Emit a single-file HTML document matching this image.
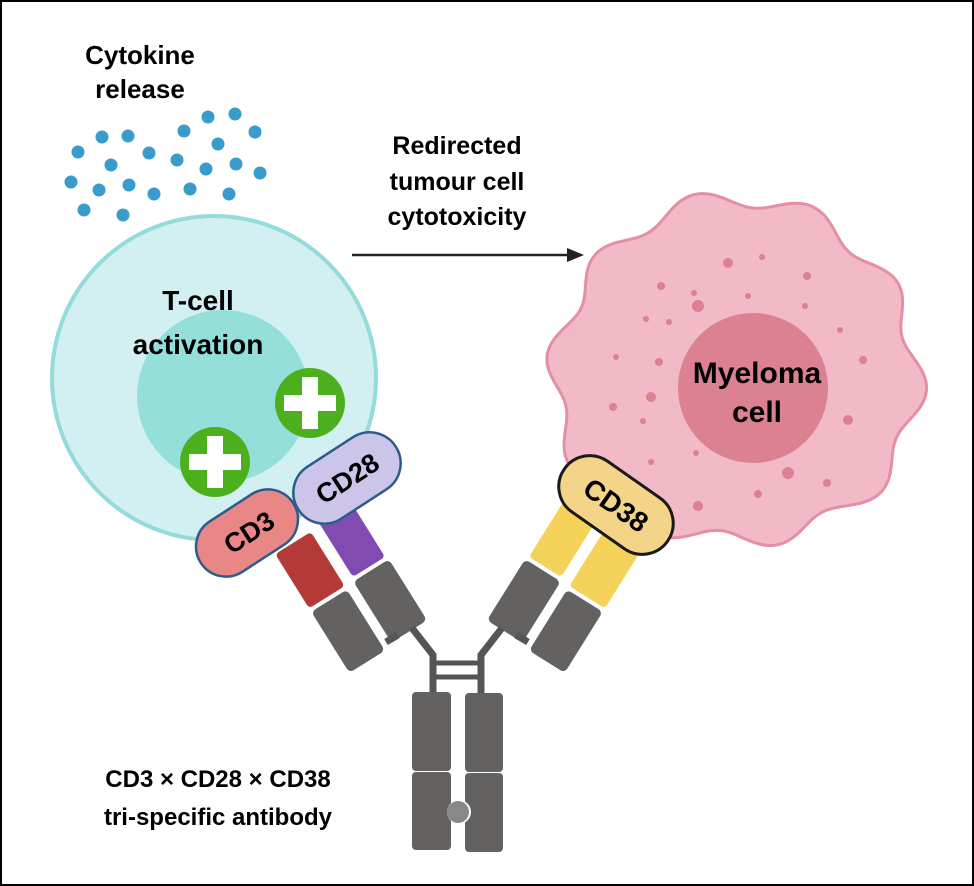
<!DOCTYPE html>
<html><head><meta charset="utf-8"><style>
html,body{margin:0;padding:0;background:#fff}
svg{display:block}
text{font-family:"Liberation Sans",Arial,sans-serif;font-weight:bold;fill:#000}
</style></head><body>
<svg width="974" height="886" viewBox="0 0 974 886" xmlns="http://www.w3.org/2000/svg">
<rect x="1" y="1" width="972" height="884" fill="#fff" stroke="#000" stroke-width="2"/>

<text x="140" y="64" font-size="26" text-anchor="middle">Cytokine</text>
<text x="140" y="98" font-size="26" text-anchor="middle">release</text>
<g fill="#3a9ccc">
<circle cx="208" cy="117" r="6.5"/><circle cx="235" cy="114" r="6.5"/><circle cx="184" cy="131" r="6.5"/>
<circle cx="255" cy="132" r="6.5"/><circle cx="102" cy="137" r="6.5"/><circle cx="128" cy="136" r="6.5"/>
<circle cx="218" cy="144" r="6.5"/><circle cx="78" cy="152" r="6.5"/><circle cx="149" cy="153" r="6.5"/>
<circle cx="177" cy="160" r="6.5"/><circle cx="111" cy="165" r="6.5"/><circle cx="236" cy="164" r="6.5"/>
<circle cx="206" cy="169" r="6.5"/><circle cx="260" cy="173" r="6.5"/><circle cx="71" cy="182" r="6.5"/>
<circle cx="99" cy="190" r="6.5"/><circle cx="129" cy="185" r="6.5"/><circle cx="154" cy="194" r="6.5"/>
<circle cx="190" cy="189" r="6.5"/><circle cx="229" cy="194" r="6.5"/><circle cx="84" cy="210" r="6.5"/>
<circle cx="123" cy="215" r="6.5"/>
</g>

<circle cx="214" cy="378" r="162" fill="#d2eff1" stroke="#93dcd9" stroke-width="4"/>
<circle cx="223" cy="396" r="86" fill="#95dfdb"/>
<text x="198" y="310" font-size="28" text-anchor="middle">T-cell</text>
<text x="198" y="354" font-size="28" text-anchor="middle">activation</text>
<g>
<circle cx="310" cy="403" r="35" fill="#4cb01e"/>
<rect x="284" y="395" width="52" height="16" fill="#fff"/><rect x="302" y="377" width="16" height="52" fill="#fff"/>
<circle cx="215" cy="462" r="35" fill="#4cb01e"/>
<rect x="189" y="454" width="52" height="16" fill="#fff"/><rect x="207" y="436" width="16" height="52" fill="#fff"/>
</g>

<text x="457" y="154" font-size="25" text-anchor="middle">Redirected</text>
<text x="457" y="190" font-size="25" text-anchor="middle">tumour cell</text>
<text x="457" y="225" font-size="25" text-anchor="middle">cytotoxicity</text>
<line x1="352" y1="255" x2="570" y2="255" stroke="#222" stroke-width="2.5"/>
<polygon points="584,255 567,248 567,262" fill="#222"/>

<circle id="fallback" cx="736" cy="372" r="176" fill="#f1bac6" stroke="#e48fa5" stroke-width="3"/>
<path id="blob" d="" fill="#f1bac6" stroke="#e48fa5" stroke-width="3"/>
<circle cx="753" cy="388" r="75" fill="#db8192"/>
<g fill="#db8192">
<circle cx="728" cy="263" r="5"/><circle cx="762" cy="257" r="3"/><circle cx="807" cy="276" r="4"/>
<circle cx="661" cy="286" r="4"/><circle cx="694" cy="293" r="3"/><circle cx="748" cy="296" r="3"/>
<circle cx="698" cy="306" r="6"/><circle cx="805" cy="306" r="3"/><circle cx="646" cy="319" r="3"/>
<circle cx="669" cy="322" r="3"/><circle cx="840" cy="330" r="3"/><circle cx="616" cy="357" r="3"/>
<circle cx="659" cy="362" r="4"/><circle cx="863" cy="360" r="4"/><circle cx="651" cy="397" r="5"/>
<circle cx="613" cy="407" r="4"/><circle cx="643" cy="421" r="3"/><circle cx="848" cy="420" r="5"/>
<circle cx="696" cy="453" r="3"/><circle cx="651" cy="462" r="3"/><circle cx="788" cy="473" r="6"/>
<circle cx="827" cy="483" r="4"/><circle cx="758" cy="494" r="4"/><circle cx="698" cy="506" r="5"/>
</g>
<text x="757" y="383" font-size="30" text-anchor="middle">Myeloma</text>
<text x="757" y="422" font-size="30" text-anchor="middle">cell</text>

<g transform="translate(293,543) rotate(-32)">
<rect x="-21" y="0" width="42" height="64" rx="4" fill="#b33a36"/>
<rect x="-21" y="68" width="42" height="72" rx="5" fill="#636261"/>
</g>
<g transform="translate(334,511) rotate(-32)">
<rect x="-19" y="0" width="38" height="66" rx="4" fill="#824bb0"/>
<rect x="-21" y="70" width="42" height="72" rx="5" fill="#636261"/>
</g>
<g transform="translate(914,0) scale(-1,1)">
<g transform="translate(293,543) rotate(-32)">
<rect x="-21" y="0" width="42" height="64" rx="4" fill="#f5d35a"/>
<rect x="-21" y="68" width="42" height="72" rx="5" fill="#636261"/>
</g>
<g transform="translate(334,511) rotate(-32)">
<rect x="-19" y="-20" width="38" height="86" rx="4" fill="#f5d35a"/>
<rect x="-21" y="70" width="42" height="72" rx="5" fill="#636261"/>
</g>
</g>
<g stroke="#555" stroke-width="7" fill="none">
<polyline points="412,628 433,655 433,695"/>
<polyline points="502,628 481,655 481,695"/>
<line x1="386" y1="642" x2="398" y2="635"/>
<line x1="528" y1="642" x2="516" y2="635"/>
</g>
<g stroke="#555" stroke-width="5">
<line x1="433" y1="663" x2="481" y2="663"/>
<line x1="433" y1="677" x2="481" y2="677"/>
</g>
<g fill="#636261">
<rect x="412" y="692" width="39" height="79" rx="4"/>
<rect x="412" y="772" width="39" height="78" rx="4"/>
<rect x="465" y="693" width="38" height="79" rx="4"/>
<rect x="465" y="773" width="38" height="79" rx="4"/>
</g>
<circle cx="459" cy="812" r="12" fill="#fff"/>
<circle cx="458" cy="812" r="11" fill="#8a8787"/>

<g transform="translate(347,478) rotate(-33)">
<rect x="-58" y="-31" width="116" height="62" rx="31" fill="#cdc4ea" stroke="#2d5c8a" stroke-width="2.5"/>
<text x="0" y="10" font-size="27" text-anchor="middle">CD28</text>
</g>
<g transform="translate(247,533) rotate(-33)">
<rect x="-55" y="-30" width="110" height="60" rx="30" fill="#e98787" stroke="#2d5c8a" stroke-width="2.5"/>
<text x="2" y="10" font-size="27" text-anchor="middle">CD3</text>
</g>
<g transform="translate(616,505) rotate(35)">
<rect x="-63" y="-31" width="126" height="62" rx="31" fill="#f3d488" stroke="#1a1a1a" stroke-width="3"/>
<text x="0" y="10" font-size="28" text-anchor="middle">CD38</text>
</g>

<text x="218" y="787" font-size="24" text-anchor="middle">CD3 × CD28 × CD38</text>
<text x="218" y="825" font-size="24" text-anchor="middle">tri-specific antibody</text>
</svg>
<script>
(function(){
var cx=736,cy=372,d="";
for(var i=0;i<=360;i++){
var t=i*Math.PI/180;
var r=176+9*Math.sin(10*t+0.6)+3*Math.sin(3*t);
var x=cx+r*Math.cos(t)*1.03,y=cy+r*Math.sin(t)*0.97;
d+=(i?"L":"M")+x.toFixed(1)+","+y.toFixed(1);
}
document.getElementById("blob").setAttribute("d",d+"Z");
document.getElementById("fallback").setAttribute("opacity","0");
})();
</script>
</body></html>
